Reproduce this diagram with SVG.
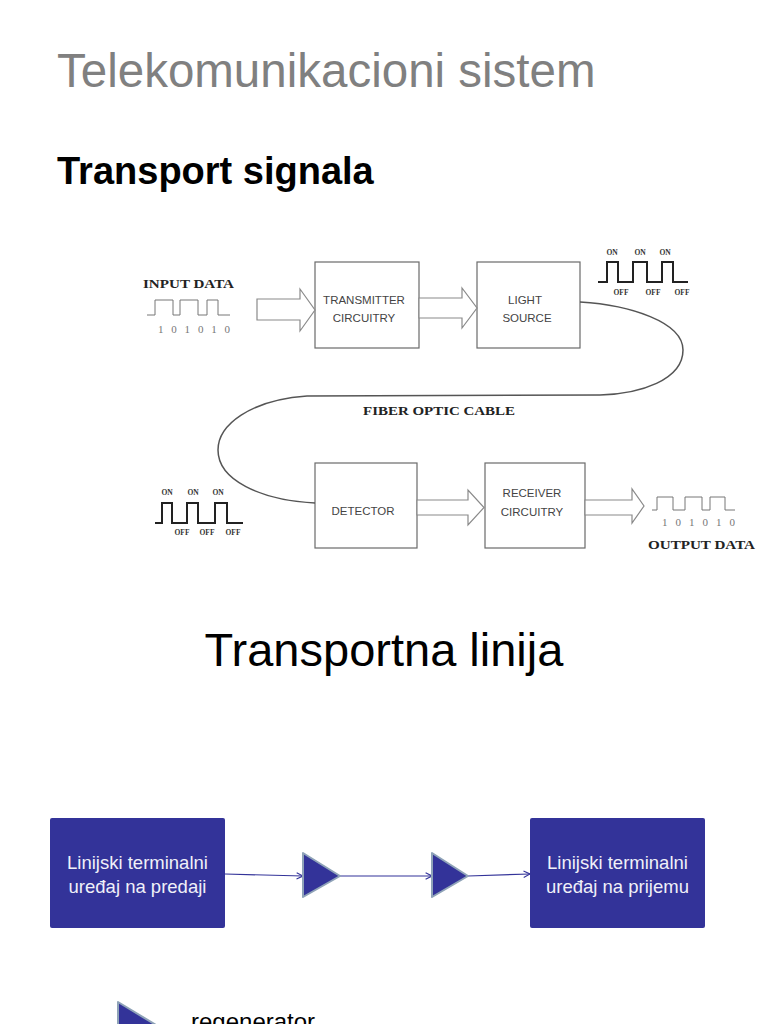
<svg xmlns="http://www.w3.org/2000/svg" width="768" height="1024" viewBox="0 0 768 1024">
<defs>
<style>
.title{font-family:"Liberation Sans",Arial,sans-serif;font-size:47.5px;fill:#808080}
.sub{font-family:"Liberation Sans",Arial,sans-serif;font-size:38px;font-weight:bold;fill:#000}
.h2{font-family:"Liberation Sans",Arial,sans-serif;font-size:47px;fill:#000}
.box{fill:#fff;stroke:#6a6a6a;stroke-width:1.2}
.blbl{font-family:"Liberation Sans",Arial,sans-serif;font-size:11.5px;fill:#444;text-anchor:middle}
.harrow{fill:#fff;stroke:#8a8a8a;stroke-width:1.2}
.serifb{font-family:"Liberation Serif","Times New Roman",serif;font-weight:bold;font-size:13px;fill:#222}
.onoff{font-family:"Liberation Serif","Times New Roman",serif;font-weight:bold;font-size:7.5px;fill:#333;text-anchor:middle}
.digits{font-family:"Liberation Serif","Times New Roman",serif;font-size:11px;fill:#777}
.wthin{fill:none;stroke:#777;stroke-width:1}
.wthick{fill:none;stroke:#222;stroke-width:2}
.cable{fill:none;stroke:#555;stroke-width:1.5}
.tbox{fill:#333399}
.tlbl{font-family:"Liberation Sans",Arial,sans-serif;font-size:18.5px;fill:#f0f0f8;text-anchor:middle}
.regen{fill:#333399;stroke:#8fa3b8;stroke-width:2;stroke-linejoin:round}
.conn{fill:none;stroke:#333399;stroke-width:1.2}
</style>
<marker id="open" viewBox="0 0 10 10" refX="9" refY="5" markerWidth="8" markerHeight="8" markerUnits="userSpaceOnUse" orient="auto">
<path d="M1,1 L9,5 L1,9" fill="none" stroke="#333399" stroke-width="1.4"/>
</marker>
</defs>
<rect width="768" height="1024" fill="#fff"/>
<text class="title" x="57" y="87">Telekomunikacioni sistem</text>
<text class="sub" x="57" y="184">Transport signala</text>

<g id="input-data">
<text class="serifb" x="143" y="288" textLength="91" lengthAdjust="spacingAndGlyphs">INPUT DATA</text>
<path class="wthin" d="M147,315 H155 V300 H173 V315 H180 V300 H198 V315 H207 V300 H218 V315 H230"/>
<text class="digits" x="158" y="333" textLength="72" lengthAdjust="spacing">1 0 1 0 1 0</text>
</g>
<g id="transmitter">
<rect class="box" x="315" y="262" width="104" height="86"/>
<text class="blbl" x="364" y="304">TRANSMITTER</text>
<text class="blbl" x="364" y="322">CIRCUITRY</text>
</g>
<g id="light-source">
<rect class="box" x="477" y="262" width="103" height="86"/>
<text class="blbl" x="525" y="304">LIGHT</text>
<text class="blbl" x="527" y="322">SOURCE</text>
</g>
<g id="on-off-top">
<path class="wthick" d="M598,282 H607 V262 H618 V282 H633 V262 H647 V282 H662 V262 H673 V282 H688"/>
<text class="onoff" x="612" y="255">ON</text>
<text class="onoff" x="640" y="255">ON</text>
<text class="onoff" x="665" y="255">ON</text>
<text class="onoff" x="621" y="295">OFF</text>
<text class="onoff" x="653" y="295">OFF</text>
<text class="onoff" x="682" y="295">OFF</text>
</g>
<g id="detector">
<rect class="box" x="315" y="463" width="102" height="85"/>
<text class="blbl" x="363" y="515">DETECTOR</text>
</g>
<g id="receiver">
<rect class="box" x="485" y="463" width="100" height="85"/>
<text class="blbl" x="532" y="497">RECEIVER</text>
<text class="blbl" x="532" y="516">CIRCUITRY</text>
</g>
<g id="on-off-bottom">
<path class="wthick" d="M155,523 H162 V503 H172 V523 H187 V503 H198 V523 H215 V503 H227 V523 H243"/>
<text class="onoff" x="167" y="495">ON</text>
<text class="onoff" x="193" y="495">ON</text>
<text class="onoff" x="218" y="495">ON</text>
<text class="onoff" x="182" y="535">OFF</text>
<text class="onoff" x="207" y="535">OFF</text>
<text class="onoff" x="233" y="535">OFF</text>
</g>
<g id="output-data">
<path class="wthin" d="M652,510 H657 V497 H673 V510 H685 V497 H702 V510 H710 V497 H725 V510 H735"/>
<text class="digits" x="662" y="526" textLength="73" lengthAdjust="spacing">1 0 1 0 1 0</text>
<text class="serifb" x="648" y="549" textLength="107" lengthAdjust="spacingAndGlyphs">OUTPUT DATA</text>
</g>

<g id="connectors-top">
<polygon class="harrow" points="257,299 300,299 300,289 315,310 300,331 300,320 257,320"/>
<polygon class="harrow" points="419,298 462,298 462,288 477,308 462,328 462,318 419,318"/>
<polygon class="harrow" points="417,500 468,500 468,490 484,507.5 468,525 468,515 417,515"/>
<polygon class="harrow" points="585,500 632,500 632,489 644,506 632,523 632,515 585,515"/>
<path class="cable" d="M580,302 C630,305 683,322 683,350 C683,380 640,394 600,395 L307,396 C250,400 218,425 218,450 C218,480 260,500 315,503"/>
<text class="serifb" x="363" y="415" textLength="152" lengthAdjust="spacingAndGlyphs">FIBER OPTIC CABLE</text>
</g>

<text class="h2" x="384" y="666" text-anchor="middle">Transportna linija</text>

<g id="connectors">
<path class="conn" d="M225,874 L303,876" marker-end="url(#open)"/>
<path class="conn" d="M340,876 L432,876" marker-end="url(#open)"/>
<path class="conn" d="M468,876 L530,874" marker-end="url(#open)"/>
</g>
<g id="terminal-tx">
<rect class="tbox" x="50" y="818" width="175" height="110" rx="2"/>
<text class="tlbl" x="137.5" y="869">Linijski terminalni</text>
<text class="tlbl" x="137.5" y="893">uređaj na predaji</text>
</g>
<g id="regen-1">
<polygon class="regen" points="303,853 340,876 303,897"/>
</g>
<g id="regen-2">
<polygon class="regen" points="432,853 468,876 432,897"/>
</g>
<g id="terminal-rx">
<rect class="tbox" x="530" y="818" width="175" height="110" rx="2"/>
<text class="tlbl" x="617.5" y="869">Linijski terminalni</text>
<text class="tlbl" x="617.5" y="893">uređaj na prijemu</text>
</g>
<g id="legend">
<polygon class="regen" points="118,1002 156,1025 118,1047"/>
<text x="191" y="1030" font-family="Liberation Sans, Arial, sans-serif" font-size="24" fill="#000">regenerator</text>
</g>
</svg>
